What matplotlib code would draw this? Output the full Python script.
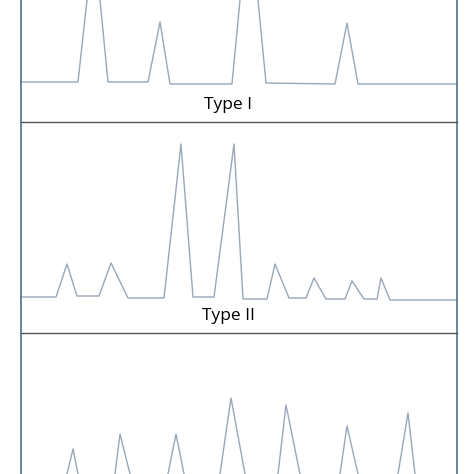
import matplotlib
matplotlib.use("Agg")
import matplotlib.pyplot as plt

# trace vertices in image pixel units (x right, y down)
type1_x = [21, 78, 87, 94, 100, 108, 148, 160, 170, 232, 240, 249, 258, 266, 335, 347, 358, 457]
type1_y = [82, 82, 0, -30, 0, 82, 82, 22, 84, 84, 0, -30, 0, 83, 84, 23, 84, 84]
type2_x = [21, 56, 67, 77, 99, 111, 128, 164, 181, 193, 214, 234, 243, 267, 275, 289, 306, 314, 326, 345, 352, 364, 377, 381, 390, 457]
type2_y = [297, 297, 264, 296, 296, 263, 298, 298, 144, 297, 297, 144, 299, 299, 264, 298, 298, 278, 299, 299, 281, 299, 299, 278, 300, 300]
type3_x = [67, 73, 78, 115, 120, 130, 168, 176, 184, 220, 231, 245, 278, 286, 300, 340, 347, 358, 398, 408, 415]
type3_y = [474, 449, 474, 474, 434, 474, 474, 434, 474, 474, 398, 474, 474, 405, 474, 474, 426, 474, 474, 413, 474]
labels = ["Type I", "Type II"]
label_y = [105, 316]
separators_y = [122, 333]

fig = plt.figure(figsize=(4.74, 4.74), dpi=100)
ax = fig.add_axes([0, 0, 1, 1])
ax.set_xlim(0, 474)
ax.set_ylim(474, 0)
ax.axis("off")

tc = "#98a8b8"
ax.plot(type1_x, type1_y, color=tc, lw=1)
ax.plot(type2_x, type2_y, color=tc, lw=1)
# third trace: separate peaks going off the bottom
for i in range(0, len(type3_x), 3):
    ax.plot(type3_x[i:i+3], type3_y[i:i+3], color=tc, lw=1)

ax.plot([21, 21], [0, 474], color="#4f6f8f", lw=1.2)
ax.plot([457, 457], [0, 474], color="#4f6f8f", lw=1.2)
for sy in separators_y:
    ax.plot([21, 457], [sy, sy], color="#555555", lw=1)
for lab, ly in zip(labels, label_y):
    ax.text(228, ly, lab, ha="center", va="center", fontsize=12.5,
            family="Open Sans", color="black")

fig.savefig("out.png", dpi=100)
